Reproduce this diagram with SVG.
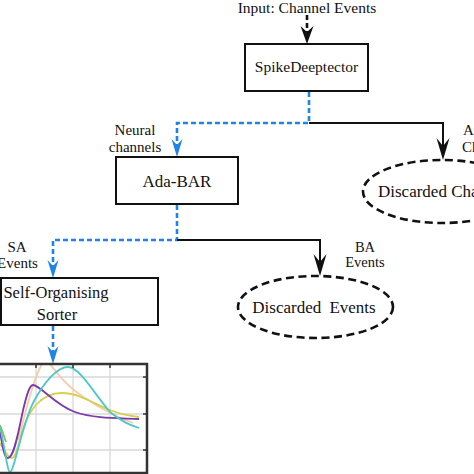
<svg xmlns="http://www.w3.org/2000/svg" width="474" height="474" viewBox="0 0 474 474">
<style>
text{font-family:"Liberation Serif","Times New Roman",serif;fill:#111;}
.box{fill:#fff;stroke:#111;stroke-width:2;}
.ell{fill:#fff;stroke:#111;stroke-width:2.6;stroke-dasharray:8 4.5;}
.blue{fill:none;stroke:#1E84E6;stroke-width:2.6;stroke-dasharray:5 3;}
.blk{fill:none;stroke:#111;stroke-width:2;}
.blkd{fill:none;stroke:#111;stroke-width:2.6;stroke-dasharray:5 3;}
.grid{stroke:#d9d9d9;stroke-width:1.3;}
.crv{fill:none;stroke-width:1.8;}
</style>
<defs>
<marker id="ab" markerUnits="userSpaceOnUse" viewBox="-8 -7 22 14" markerWidth="22" markerHeight="14" refX="0" refY="0" orient="auto">
<path d="M12,0 L-6,-6.5 L0,0 L-6,6.5 Z" fill="#111"/>
</marker>
<marker id="ab2" markerUnits="userSpaceOnUse" viewBox="-10 -7 26 14" markerWidth="26" markerHeight="14" refX="0" refY="0" orient="auto">
<path d="M14,0 L-8,-6.5 L0,0 L-8,6.5 Z" fill="#111"/>
</marker>
<marker id="au" markerUnits="userSpaceOnUse" viewBox="-8 -6 22 12" markerWidth="22" markerHeight="12" refX="0" refY="0" orient="auto">
<path d="M12,0 L-6,-5.5 L0,0 L-6,5.5 Z" fill="#1E84E6"/>
</marker>
<clipPath id="pc"><rect x="0" y="364" width="147" height="110"/></clipPath>
</defs>

<g id="connectors">
<path class="blkd" d="M307,15 V32" marker-end="url(#ab)"/>
<path class="blue" d="M309,92 V123 H177 V145" marker-end="url(#au)"/>
<path class="blk" d="M309,123 H443 V146" marker-end="url(#ab2)"/>
<path class="blue" d="M177,205 V240 H53 V266" marker-end="url(#au)"/>
<path class="blk" d="M177,240 H320 V262" marker-end="url(#ab2)"/>
<path class="blue" d="M53,326 V352" marker-end="url(#au)"/>
</g>

<g id="label-input"><text x="307" y="13" font-size="15.5" text-anchor="middle">Input: Channel Events</text></g>

<g id="node-spikedeeptector">
<rect class="box" x="245" y="44" width="123" height="47"/>
<text x="306.5" y="72" font-size="15.5" text-anchor="middle">SpikeDeeptector</text>
</g>

<g id="label-neural">
<text x="135" y="135" font-size="15" text-anchor="middle">Neural</text>
<text x="135" y="152" font-size="15" text-anchor="middle">channels</text>
</g>

<g id="label-artifact">
<text x="463" y="135" font-size="15">Artifact</text>
<text x="462" y="152" font-size="15">Channels</text>
</g>

<g id="node-adabar">
<rect class="box" x="116" y="157" width="122" height="47"/>
<text x="177" y="187" font-size="17" text-anchor="middle">Ada-BAR</text>
</g>

<g id="node-discarded-channels">
<ellipse class="ell" cx="442" cy="191.5" rx="79" ry="31.5"/>
<text x="378" y="197" font-size="17">Discarded Channels</text>
</g>

<g id="label-sa">
<text x="17" y="252" font-size="15" text-anchor="middle">SA</text>
<text x="17.5" y="268" font-size="15" text-anchor="middle">Events</text>
</g>

<g id="label-ba">
<text x="365" y="252" font-size="14.5" text-anchor="middle">BA</text>
<text x="365" y="267" font-size="14.5" text-anchor="middle">Events</text>
</g>

<g id="node-discarded-events">
<ellipse class="ell" cx="315.5" cy="307" rx="77.5" ry="31"/>
<text x="314" y="313" font-size="17" text-anchor="middle" word-spacing="4">Discarded Events</text>
</g>

<g id="node-sorter">
<rect class="box" x="1" y="278" width="157" height="47"/>
<text x="56" y="298" font-size="16.5" text-anchor="middle">Self-Organising</text>
<text x="57" y="320" font-size="16.5" text-anchor="middle">Sorter</text>
</g>

<g id="node-plot">
<rect x="0" y="364" width="147" height="110" fill="#fff"/>
<g class="grid">
<line x1="36" y1="364" x2="36" y2="474"/>
<line x1="73" y1="364" x2="73" y2="474"/>
<line x1="110" y1="364" x2="110" y2="474"/>
<line x1="0" y1="377" x2="147" y2="377"/>
<line x1="0" y1="414" x2="147" y2="414"/>
<line x1="0" y1="450" x2="147" y2="450"/>
</g>
<g clip-path="url(#pc)">
<path class="crv" stroke="#F6CCA8" d="M18,440 C24,420 32,380 42,364 C45,360 49,362 53,368 C62,380 72,390 85,398 C100,408 118,418 133,423"/>
<path class="crv" stroke="#D6CF4E" d="M0,443 C4,450 8,458 12,458 C16,458 18,445 22,432 C28,412 40,393 62,393 C80,393 95,405 110,410 C120,414 130,416 139,417"/>
<path class="crv" stroke="#7B3AA8" d="M0,432 C3,448 4,458 8,458 C13,458 17,440 22,415 C27,392 30,385 33,385 C40,385 55,405 75,412 C95,419 120,418 139,419"/>
<path class="crv" stroke="#4CC9C6" d="M0,428 C4,440 7,472 10,472 C14,472 22,425 33,403 C45,380 58,367 68,367 C80,367 95,395 110,412 C122,422 130,425 139,428"/>
<path class="crv" stroke="#7DBF6A" d="M0,425 C2,430 4,436 6,442"/>
</g>
<path d="M-2,364 H147 V473 H-2" fill="none" stroke="#333" stroke-width="2.5"/>
<g stroke="#333" stroke-width="1.5">
<line x1="36" y1="364" x2="36" y2="368"/>
<line x1="73" y1="364" x2="73" y2="368"/>
<line x1="110" y1="364" x2="110" y2="368"/>
<line x1="147" y1="377" x2="143" y2="377"/>
<line x1="147" y1="414" x2="143" y2="414"/>
<line x1="147" y1="450" x2="143" y2="450"/>
</g>
</g>
</svg>
